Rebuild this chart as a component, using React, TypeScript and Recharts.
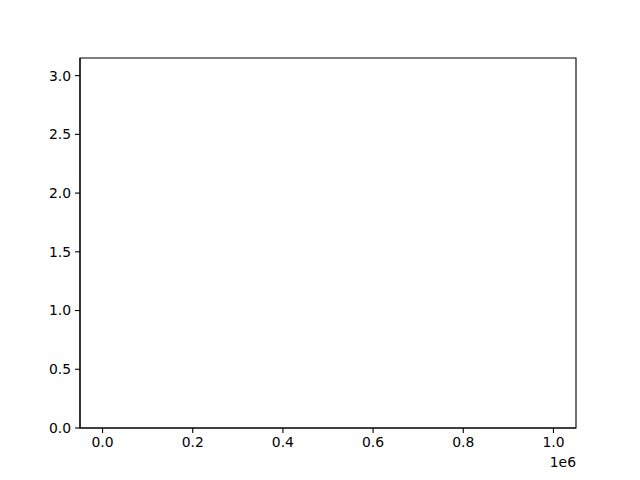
import { Label, ReferenceArea, Scatter, ScatterChart, XAxis, YAxis } from 'recharts'

// The reference plot is empty: only the axes frame and ticks are drawn.
const points: Array<{ x: number; y: number }> = []

const xTicks = [0, 200000, 400000, 600000, 800000, 1000000]
const yTicks = [0, 0.5, 1.0, 1.5, 2.0, 2.5, 3.0]
const xDomain = [-50000, 1050000]
const yDomain = [0, 3.15]
const xOffsetText = '1e6'

const FONT = 'DejaVu Sans, sans-serif'
const TICK = { fontSize: 13.9, fill: '#000', fontFamily: FONT }
const LINE = { stroke: '#000', strokeWidth: 1.1 }

export default function App() {
  return (
    <div style={{ position: 'fixed', left: 0, top: 0, width: 640, height: 480, background: '#fff' }}>
      <ScatterChart
        width={640}
        height={480}
        margin={{ top: 58, right: 64, bottom: 0, left: 0 }}
      >
        <XAxis
          type="number"
          dataKey="x"
          domain={xDomain}
          ticks={xTicks}
          allowDataOverflow
          height={52}
          tick={TICK}
          tickSize={5}
          tickMargin={4}
          tickLine={LINE}
          axisLine={LINE}
          tickFormatter={(v: number) => (v / 1e6).toFixed(1)}
        >
          <Label
            content={({ viewBox }: any) => (
              <text
                x={viewBox.x + viewBox.width}
                y={viewBox.y + 39}
                textAnchor="end"
                fontSize={13.9}
                fontFamily={FONT}
                fill="#000"
              >
                {xOffsetText}
              </text>
            )}
          />
        </XAxis>
        <YAxis
          type="number"
          dataKey="y"
          domain={yDomain}
          ticks={yTicks}
          allowDataOverflow
          width={80}
          tick={TICK}
          tickSize={5}
          tickMargin={4}
          tickLine={LINE}
          axisLine={LINE}
          tickFormatter={(v: number) => v.toFixed(1)}
        />
        {/* frame around the plot area, like matplotlib's spines */}
        <ReferenceArea
          x1={xDomain[0]}
          x2={xDomain[1]}
          y1={yDomain[0]}
          y2={yDomain[1]}
          fill="none"
          stroke="#000"
          strokeWidth={1.1}
          ifOverflow="visible"
        />
        <Scatter data={points} fill="#1f77b4" isAnimationActive={false} />
      </ScatterChart>
    </div>
  )
}
